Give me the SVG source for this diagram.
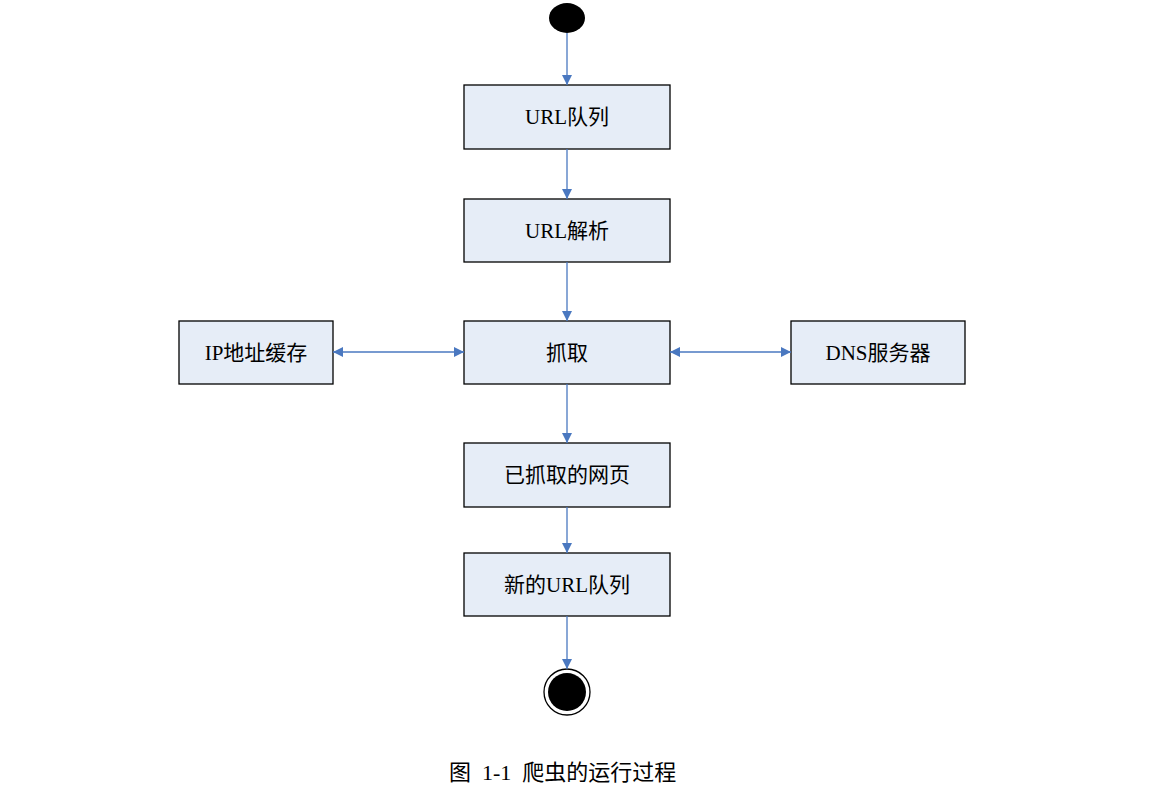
<svg xmlns="http://www.w3.org/2000/svg" width="1150" height="798" viewBox="0 0 1150 798">
<style>
.b{fill:#e6edf7;stroke:#000;stroke-width:1.3}
.t{font-family:"Liberation Serif","Noto Sans CJK SC",serif;font-size:21px;text-anchor:middle;fill:#000}
.c{stroke:#4a78c0;stroke-width:1.3;fill:none}
</style>
<defs><marker id="a" markerWidth="10" markerHeight="10" refX="10" refY="5" orient="auto-start-reverse" markerUnits="userSpaceOnUse"><path d="M0,0L10,5L0,10z" fill="#4a78c0"/></marker></defs>
<g id="start"><ellipse cx="567" cy="18" rx="18" ry="15" fill="#000"/></g>
<g id="n1"><rect class="b" x="464" y="85" width="206" height="64"/><text class="t" x="567" y="124">URL队列</text></g>
<g id="n2"><rect class="b" x="464" y="199" width="206" height="63"/><text class="t" x="567" y="238">URL解析</text></g>
<g id="n3"><rect class="b" x="464" y="321" width="206" height="63"/><text class="t" x="567" y="360">抓取</text></g>
<g id="n4"><rect class="b" x="179" y="321" width="154" height="63"/><text class="t" x="256" y="360">IP地址缓存</text></g>
<g id="n5"><rect class="b" x="791" y="321" width="174" height="63"/><text class="t" x="878" y="360">DNS服务器</text></g>
<g id="n6"><rect class="b" x="464" y="443" width="206" height="64"/><text class="t" x="567" y="482">已抓取的网页</text></g>
<g id="n7"><rect class="b" x="464" y="553" width="206" height="63"/><text class="t" x="567" y="592">新的URL队列</text></g>
<g id="end"><circle cx="567" cy="692" r="23" fill="#fff" stroke="#000" stroke-width="1.3"/><circle cx="567" cy="692" r="19" fill="#000"/></g>
<g id="connectors">
<path class="c" marker-end="url(#a)" d="M567,33V85"/>
<path class="c" marker-end="url(#a)" d="M567,149V199"/>
<path class="c" marker-end="url(#a)" d="M567,262V321"/>
<path class="c" marker-end="url(#a)" d="M567,384V443"/>
<path class="c" marker-end="url(#a)" d="M567,507V553"/>
<path class="c" marker-end="url(#a)" d="M567,616V669"/>
<path class="c" marker-start="url(#a)" marker-end="url(#a)" d="M333,352H464"/>
<path class="c" marker-start="url(#a)" marker-end="url(#a)" d="M670,352H791"/>
</g>
<text x="449" y="780" style="font-family:'Liberation Serif','Noto Sans CJK SC',serif;font-size:22px;fill:#000" xml:space="preserve">图  1-1  爬虫的运行过程</text>
</svg>
